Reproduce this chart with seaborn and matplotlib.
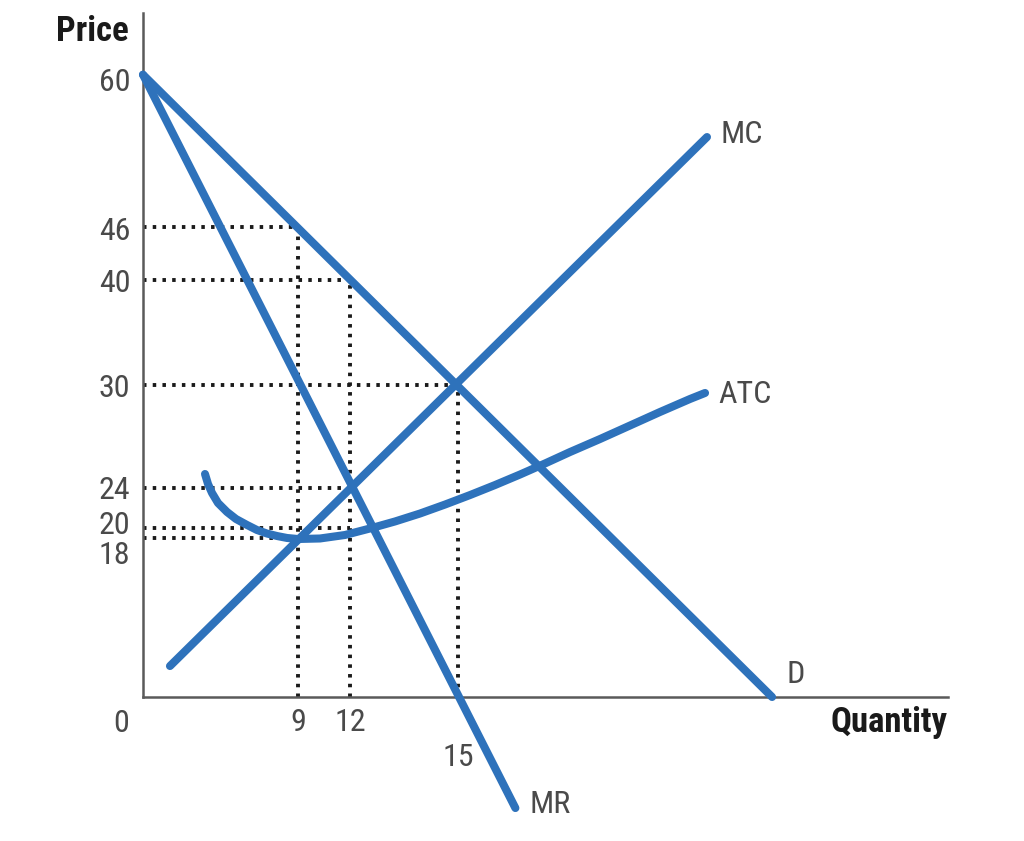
import matplotlib
matplotlib.use('Agg')
import matplotlib.pyplot as plt
import seaborn as sns
import pandas as pd

# drawing-scale values read off the schematic (axes are not to scale)
price_labels = ["60", "46", "40", "30", "24", "20", "18"]
price_label_pos = [59.8, 45.4, 40.4, 30.2, 20.3, 16.9, 14.0]

qty_labels = ["9", "12", "15"]
qty_pos = [8.91, 11.9, 18.1]

# dotted guides: price level -> quantity where it stops
guide_y = [45.5, 40.4, 30.2, 20.3, 16.4, 15.4]
guide_x_end = [8.91, 11.9, 18.1, 11.9, 11.9, 8.91]
vguide_x = [8.91, 11.9, 18.1]
vguide_top = [45.5, 40.4, 30.2]

d_q = [0, 36.15]
d_p = [60.3, 0]
mr_q = [0, 21.4]
mr_p = [60.3, -10.76]
mc_q = [1.55, 32.41]
mc_p = [3.0, 54.26]
atc_q = [3.563, 3.736, 3.966, 4.310, 4.828, 5.345, 5.977, 6.552, 7.126, 7.701,
         8.276, 8.908, 10.172, 11.609, 13.046, 14.483, 15.920, 17.356, 18.793,
         20.230, 21.667, 23.103, 24.540, 26.264, 27.989, 29.713, 31.437, 32.299]
atc_p = [21.61, 20.64, 19.77, 18.80, 17.93, 17.25, 16.67, 16.18, 15.84, 15.60,
         15.41, 15.31, 15.36, 15.70, 16.33, 17.01, 17.78, 18.65, 19.57,
         20.54, 21.56, 22.63, 23.74, 25.00, 26.31, 27.62, 28.88, 29.46]

BLUE = "#2e72bb"
GREY = "#4a4a4a"

sns.set_theme(style="white")
plt.rcParams['font.family'] = ['Roboto Condensed', 'Liberation Sans Narrow', 'Roboto', 'DejaVu Sans']

fig = plt.figure(figsize=(10.24, 8.41), dpi=100)
ax = fig.add_axes([143 / 1024, (841 - 697) / 841, (948 - 143) / 1024, (697 - 13) / 841])
ax.set_xlim(0, 46.26)
ax.set_ylim(0, 66.28)

# dotted guides
for y, xe in zip(guide_y, guide_x_end):
    ax.plot([0, xe], [y, y], color="#1a1a1a", lw=2.8, ls=(0, (0.9, 1.6)), zorder=2)
for x, yt in zip(vguide_x, vguide_top):
    ax.plot([x, x], [0, yt], color="#1a1a1a", lw=2.8, ls=(0, (0.9, 1.6)), zorder=2)

curves = {"D": (d_q, d_p), "MR": (mr_q, mr_p), "MC": (mc_q, mc_p), "ATC": (atc_q, atc_p)}
for name, (q, p) in curves.items():
    df = pd.DataFrame({"q": q, "p": p})
    sns.lineplot(data=df, x="q", y="p", sort=False, ax=ax, color=BLUE, lw=5.8,
                 solid_capstyle="round", solid_joinstyle="round", zorder=3, clip_on=False)

# curve labels next to their end points
label_offsets = {"MC": (9.5, 1.5), "ATC": (9.5, -1), "D": (10.5, 16.5), "MR": (10.5, 2.2)}
for name, (q, p) in curves.items():
    dx, dy = label_offsets[name]
    ax.annotate(name, xy=(q[-1], p[-1]), xytext=(dx, dy), textcoords="offset points",
                ha="left", va="center", fontsize=23, color=GREY, annotation_clip=False)

for s in ["top", "right"]:
    ax.spines[s].set_visible(False)
for s in ["left", "bottom"]:
    ax.spines[s].set_color("#5a5a5a")
    ax.spines[s].set_linewidth(1.8)

ax.set_yticks(price_label_pos, price_labels)
ax.set_xticks(qty_pos, qty_labels)
ax.tick_params(axis="both", length=0, labelsize=23, labelcolor=GREY)
ax.tick_params(axis="y", pad=9)
ax.tick_params(axis="x", pad=8)
ax.xaxis.get_major_ticks()[2].set_pad(33)
ax.set_xlabel("")
ax.set_ylabel("")

ax.annotate("0", xy=(0, 0), xytext=(-16, -19), textcoords="offset points",
            ha="center", va="center", fontsize=23, color=GREY, annotation_clip=False)
ax.annotate("Price", xy=(0, 66.28), xytext=(-10, -13), textcoords="offset points",
            ha="right", va="center", fontsize=25, fontweight="bold", color="#1a1a1a",
            annotation_clip=False)
ax.annotate("Quantity", xy=(46.26, 0), xytext=(0, -25), textcoords="offset points",
            ha="right", va="baseline", fontsize=25, fontweight="bold", color="#1a1a1a",
            annotation_clip=False)

fig.savefig("out.png", dpi=100)
plt.close(fig)
